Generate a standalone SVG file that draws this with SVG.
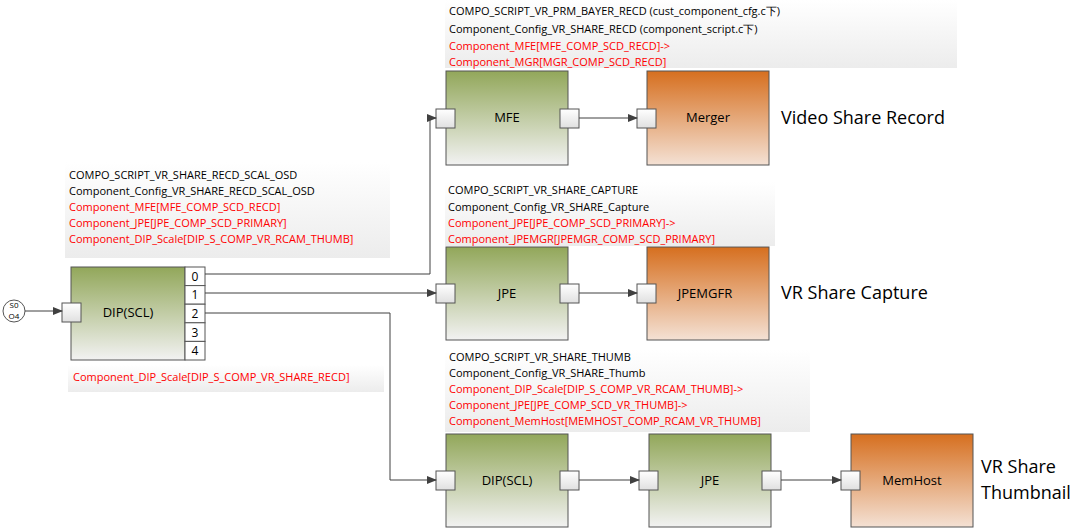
<svg xmlns="http://www.w3.org/2000/svg" width="1077" height="531" viewBox="0 0 1077 531">
<defs>
<linearGradient id="g" x1="0" y1="0" x2="0" y2="1"><stop offset="0" stop-color="#92a75a"/><stop offset="1" stop-color="#f2f2f2"/></linearGradient>
<linearGradient id="o" x1="0" y1="0" x2="0" y2="1"><stop offset="0" stop-color="#d66f1f"/><stop offset="1" stop-color="#f4e1d4"/></linearGradient>
<linearGradient id="lb" x1="0" y1="0" x2="0" y2="1"><stop offset="0" stop-color="#ffffff"/><stop offset="1" stop-color="#ececec"/></linearGradient>
<linearGradient id="pt" x1="0" y1="0" x2="0" y2="1"><stop offset="0" stop-color="#ffffff"/><stop offset="1" stop-color="#e0e0e0"/></linearGradient>
<marker id="a" markerWidth="10" markerHeight="8" refX="9" refY="4" orient="auto" markerUnits="userSpaceOnUse"><path d="M0,0 L10,4 L0,8 z" fill="#404040"/></marker>
</defs>
<style>
text{font-family:"Open Sans","Liberation Sans",sans-serif}
.t{font-size:11px;fill:#000}
.r{font-size:11px;fill:#ff0000}
.n{font-size:13px;text-anchor:middle;fill:#000}
.big{font-size:18px;fill:#000}
.box{stroke:#555;stroke-width:1}
.port{fill:url(#pt);stroke:#555}
.lbl{fill:url(#lb)}
.c{fill:none;stroke:#404040;stroke-width:1;marker-end:url(#a)}
</style>
<g id="labels">
<rect class="lbl" x="445" y="0" width="512" height="68"/>
<text class="t" x="449" y="15">COMPO_SCRIPT_VR_PRM_BAYER_RECD  (cust_component_cfg.c下)</text>
<text class="t" x="449" y="33">Component_Config_VR_SHARE_RECD (component_script.c下)</text>
<text class="r" x="449" y="50">Component_MFE[MFE_COMP_SCD_RECD]-&gt;</text>
<text class="r" x="449" y="66">Component_MGR[MGR_COMP_SCD_RECD]</text>
<rect class="lbl" x="65" y="162" width="325" height="96"/>
<text class="t" x="69" y="179">COMPO_SCRIPT_VR_SHARE_RECD_SCAL_OSD</text>
<text class="t" x="69" y="195">Component_Config_VR_SHARE_RECD_SCAL_OSD</text>
<text class="r" x="69" y="211">Component_MFE[MFE_COMP_SCD_RECD]</text>
<text class="r" x="69" y="227">Component_JPE[JPE_COMP_SCD_PRIMARY]</text>
<text class="r" x="69" y="243">Component_DIP_Scale[DIP_S_COMP_VR_RCAM_THUMB]</text>
<rect class="lbl" x="68" y="365" width="316" height="27"/>
<text class="r" x="73" y="381">Component_DIP_Scale[DIP_S_COMP_VR_SHARE_RECD]</text>
<rect class="lbl" x="445" y="182" width="330" height="64"/>
<text class="t" x="448" y="194">COMPO_SCRIPT_VR_SHARE_CAPTURE</text>
<text class="t" x="448" y="211">Component_Config_VR_SHARE_Capture</text>
<text class="r" x="448" y="227">Component_JPE[JPE_COMP_SCD_PRIMARY]-&gt;</text>
<text class="r" x="448" y="243">Component_JPEMGR[JPEMGR_COMP_SCD_PRIMARY]</text>
<rect class="lbl" x="445" y="350" width="365" height="82"/>
<text class="t" x="449" y="361">COMPO_SCRIPT_VR_SHARE_THUMB</text>
<text class="t" x="449" y="377">Component_Config_VR_SHARE_Thumb</text>
<text class="r" x="449" y="393">Component_DIP_Scale[DIP_S_COMP_VR_RCAM_THUMB]-&gt;</text>
<text class="r" x="449" y="409">Component_JPE[JPE_COMP_SCD_VR_THUMB]-&gt;</text>
<text class="r" x="449" y="425">Component_MemHost[MEMHOST_COMP_RCAM_VR_THUMB]</text>
<text class="big" x="781" y="124">Video Share Record</text>
<text class="big" x="781" y="299">VR Share Capture</text>
<text class="big" x="981" y="473">VR Share</text>
<text class="big" x="981" y="499">Thumbnail</text>
</g>
<g id="src">
<circle cx="14" cy="311" r="11" fill="#fff" stroke="#555"/>
<text x="14" y="308" font-size="8" text-anchor="middle">S0</text>
<text x="14" y="319" font-size="8" text-anchor="middle">O4</text>
</g>
<g id="dip1">
<rect class="box" x="71" y="267" width="114" height="93" fill="url(#g)"/>
<text class="n" x="128" y="317">DIP(SCL)</text>
<rect class="port" x="62" y="303" width="19" height="19"/>
<g fill="#fff" stroke="#555">
<rect x="185" y="267" width="20" height="18.6"/><rect x="185" y="285.6" width="20" height="18.6"/><rect x="185" y="304.2" width="20" height="18.6"/><rect x="185" y="322.8" width="20" height="18.6"/><rect x="185" y="341.4" width="20" height="18.6"/>
</g>
<g font-size="12" text-anchor="middle"><text x="195" y="281">0</text><text x="195" y="299">1</text><text x="195" y="318">2</text><text x="195" y="337">3</text><text x="195" y="355">4</text></g>
</g>
<g id="mfe"><rect class="box" x="446" y="71" width="122" height="94" fill="url(#g)"/><text class="n" x="507" y="122">MFE</text><rect class="port" x="436" y="109" width="19" height="19"/><rect class="port" x="560" y="109" width="19" height="19"/></g>
<g id="merger"><rect class="box" x="647" y="71" width="122" height="94" fill="url(#o)"/><text class="n" x="708" y="122">Merger</text><rect class="port" x="637" y="109" width="19" height="19"/></g>
<g id="jpe1"><rect class="box" x="446" y="247" width="122" height="93" fill="url(#g)"/><text class="n" x="507" y="298">JPE</text><rect class="port" x="436" y="284" width="19" height="19"/><rect class="port" x="560" y="284" width="19" height="19"/></g>
<g id="jpemgfr"><rect class="box" x="647" y="247" width="122" height="93" fill="url(#o)"/><text class="n" x="705" y="298">JPEMGFR</text><rect class="port" x="637" y="284" width="19" height="19"/></g>
<g id="dip2"><rect class="box" x="446" y="434" width="122" height="93" fill="url(#g)"/><text class="n" x="507" y="485">DIP(SCL)</text><rect class="port" x="436" y="471" width="19" height="19"/><rect class="port" x="560" y="471" width="19" height="19"/></g>
<g id="jpe2"><rect class="box" x="649" y="434" width="122" height="93" fill="url(#g)"/><text class="n" x="710" y="485">JPE</text><rect class="port" x="639" y="471" width="19" height="19"/><rect class="port" x="762" y="471" width="19" height="19"/></g>
<g id="memhost"><rect class="box" x="851" y="434" width="122" height="93" fill="url(#o)"/><text class="n" x="912" y="485">MemHost</text><rect class="port" x="841" y="471" width="19" height="19"/></g>
<g id="connectors">
<path class="c" d="M25,311 H62"/>
<path class="c" d="M205,274 H430 V118 H436"/>
<path class="c" d="M205,293 H436"/>
<path class="c" d="M205,313 H390 V480 H436"/>
<path class="c" d="M579,118 H637"/>
<path class="c" d="M579,293 H637"/>
<path class="c" d="M579,480 H639"/>
<path class="c" d="M781,480 H841"/>
</g>
</svg>
